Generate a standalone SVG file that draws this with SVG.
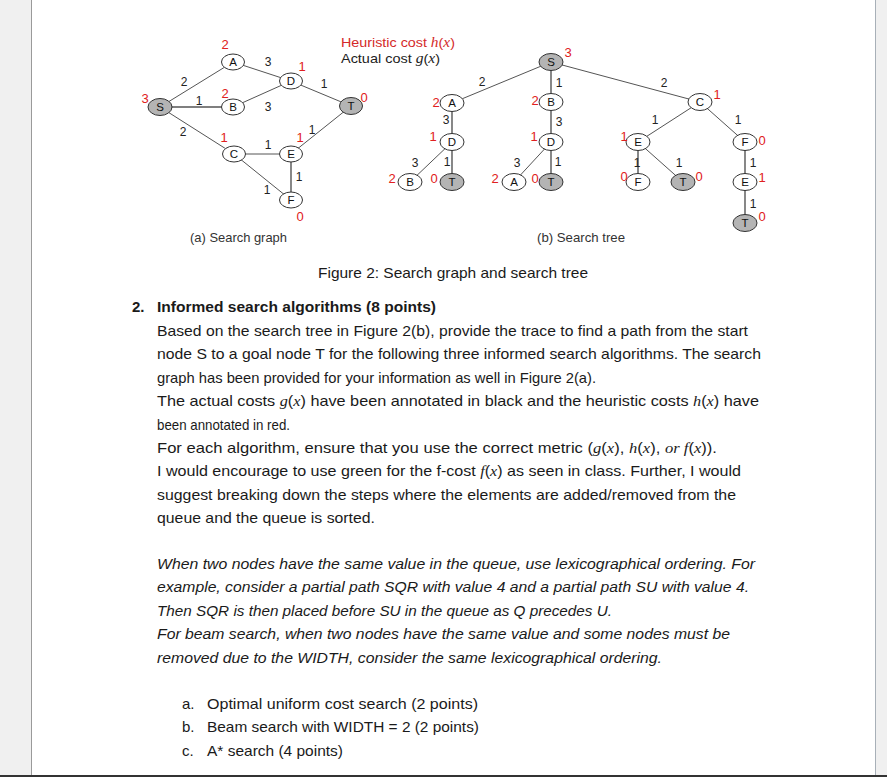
<svg xmlns="http://www.w3.org/2000/svg" width="887" height="777" viewBox="0 0 887 777">
<style>
.e{stroke:#555;stroke-width:1;fill:none}
.ev{stroke:#555;stroke-width:1.4;fill:none}
.n{fill:#fff;stroke:#333;stroke-width:1}
.g{fill:#b4b4b4;stroke:#333;stroke-width:1}
.nt{font-family:"Liberation Sans",Arial,sans-serif;font-size:11.5px;fill:#111;text-anchor:middle}
.el{font-family:"Liberation Sans",Arial,sans-serif;font-size:12px;fill:#222;text-anchor:middle}
.h{font-family:"Liberation Sans",Arial,sans-serif;font-size:13px;fill:#e02020;text-anchor:middle}
.cap{font-family:"Liberation Sans",Arial,sans-serif;font-size:13px;fill:#333}
.t{font-family:"Liberation Sans",Arial,sans-serif;font-size:15px;fill:#1a1a1a}
.i{font-style:italic}
.m{font-family:"Liberation Serif","Times New Roman",serif;font-style:italic}
</style>
<rect x="0" y="0" width="887" height="777" fill="#fff"/>
<rect x="0" y="0" width="31" height="777" fill="#f0f0f0"/>
<line x1="31.5" y1="0" x2="31.5" y2="777" stroke="#9a9a9a" stroke-width="1"/>
<rect x="875" y="0" width="12" height="777" fill="#f0f0f0"/>
<line x1="875.5" y1="0" x2="875.5" y2="777" stroke="#a8b0b8" stroke-width="1"/>
<rect x="0" y="775" width="887" height="2" fill="#333"/>

<g id="connectors">
<line class="e" x1="160" y1="107" x2="233" y2="62"/>
<line class="e" x1="233" y1="62" x2="291" y2="81"/>
<line class="e" x1="291" y1="81" x2="351" y2="106"/>
<line class="ev" x1="160" y1="107" x2="233" y2="107"/>
<line class="e" x1="233" y1="107" x2="291" y2="81"/>
<line class="e" x1="160" y1="107" x2="234" y2="154"/>
<line class="e" x1="351" y1="106" x2="291" y2="154"/>
<line class="e" x1="234" y1="154" x2="291" y2="154"/>
<line class="ev" x1="291" y1="154" x2="291" y2="200"/>
<line class="e" x1="234" y1="154" x2="291" y2="200"/>

<line class="e" x1="551" y1="62" x2="452" y2="103"/>
<line class="ev" x1="452" y1="103" x2="452" y2="142"/>
<line class="e" x1="452" y1="142" x2="410" y2="182"/>
<line class="ev" x1="452" y1="142" x2="452" y2="182"/>
<line class="ev" x1="551" y1="62" x2="551" y2="102"/>
<line class="ev" x1="551" y1="102" x2="551" y2="142"/>
<line class="e" x1="551" y1="142" x2="514" y2="182"/>
<line class="ev" x1="551" y1="142" x2="551" y2="182"/>
<line class="e" x1="551" y1="62" x2="700" y2="102"/>
<line class="e" x1="700" y1="102" x2="638" y2="142"/>
<line class="e" x1="700" y1="102" x2="745" y2="142"/>
<line class="ev" x1="638" y1="142" x2="638" y2="182"/>
<line class="e" x1="638" y1="142" x2="683" y2="182"/>
<line class="ev" x1="745" y1="142" x2="745" y2="182"/>
<line class="ev" x1="745" y1="182" x2="745" y2="223"/>
</g>

<g id="edge-labels">
<text class="el" x="184" y="86">2</text>
<text class="el" x="268" y="66">3</text>
<text class="el" x="324" y="88">1</text>
<text class="el" x="199" y="105">1</text>
<text class="el" x="268" y="111">3</text>
<text class="el" x="183" y="136">2</text>
<text class="el" x="312" y="134">1</text>
<text class="el" x="268" y="149">1</text>
<text class="el" x="299" y="181">1</text>
<text class="el" x="267" y="194">1</text>

<text class="el" x="482" y="86">2</text>
<text class="el" x="446" y="124">3</text>
<text class="el" x="415" y="167">3</text>
<text class="el" x="447" y="166">1</text>
<text class="el" x="559" y="87">1</text>
<text class="el" x="559" y="126">3</text>
<text class="el" x="517" y="167">3</text>
<text class="el" x="558" y="166">1</text>
<text class="el" x="664" y="87">2</text>
<text class="el" x="655" y="124">1</text>
<text class="el" x="738" y="124">1</text>
<text class="el" x="637" y="167">1</text>
<text class="el" x="679" y="167">1</text>
<text class="el" x="753" y="167">1</text>
<text class="el" x="753" y="208">1</text>
</g>

<g id="graph-S"><ellipse class="g" cx="160" cy="107" rx="12" ry="8.5"/><text class="nt" x="160" y="111">S</text><text class="h" x="145" y="103">3</text></g>
<g id="graph-A"><ellipse class="n" cx="233" cy="62" rx="11.5" ry="8"/><text class="nt" x="233" y="66">A</text><text class="h" x="225" y="49">2</text></g>
<g id="graph-B"><ellipse class="n" cx="233" cy="107" rx="11.5" ry="8"/><text class="nt" x="233" y="111">B</text><text class="h" x="225" y="98">2</text></g>
<g id="graph-D"><ellipse class="n" cx="291" cy="81" rx="11.5" ry="8"/><text class="nt" x="291" y="85">D</text><text class="h" x="302" y="71">1</text></g>
<g id="graph-T"><ellipse class="g" cx="351" cy="106" rx="11.5" ry="8.5"/><text class="nt" x="351" y="110">T</text><text class="h" x="364" y="102">0</text></g>
<g id="graph-C"><ellipse class="n" cx="234" cy="154" rx="11.5" ry="8"/><text class="nt" x="234" y="158">C</text><text class="h" x="224" y="142">1</text></g>
<g id="graph-E"><ellipse class="n" cx="291" cy="154" rx="11.5" ry="8"/><text class="nt" x="291" y="158">E</text><text class="h" x="300" y="142">1</text></g>
<g id="graph-F"><ellipse class="n" cx="291" cy="200" rx="11.5" ry="8"/><text class="nt" x="291" y="204">F</text><text class="h" x="300" y="221">0</text></g>

<g id="tree-S"><ellipse class="g" cx="551" cy="62" rx="12" ry="8.5"/><text class="nt" x="551" y="66">S</text><text class="h" x="568" y="57">3</text></g>
<g id="tree-A1"><ellipse class="n" cx="452" cy="103" rx="12" ry="8.5"/><text class="nt" x="452" y="107">A</text><text class="h" x="436" y="107">2</text></g>
<g id="tree-D1"><ellipse class="n" cx="452" cy="142" rx="12" ry="8.5"/><text class="nt" x="452" y="146">D</text><text class="h" x="433" y="141">1</text></g>
<g id="tree-B1"><ellipse class="n" cx="410" cy="182" rx="12" ry="8.5"/><text class="nt" x="410" y="186">B</text><text class="h" x="392" y="183">2</text></g>
<g id="tree-T1"><ellipse class="g" cx="452" cy="182" rx="12" ry="8.5"/><text class="nt" x="452" y="186">T</text><text class="h" x="434" y="183">0</text></g>
<g id="tree-B2"><ellipse class="n" cx="551" cy="102" rx="12" ry="8.5"/><text class="nt" x="551" y="106">B</text><text class="h" x="535" y="105">2</text></g>
<g id="tree-D2"><ellipse class="n" cx="551" cy="142" rx="12" ry="8.5"/><text class="nt" x="551" y="146">D</text><text class="h" x="534" y="141">1</text></g>
<g id="tree-A2"><ellipse class="n" cx="514" cy="182" rx="12" ry="8.5"/><text class="nt" x="514" y="186">A</text><text class="h" x="495" y="183">2</text></g>
<g id="tree-T2"><ellipse class="g" cx="551" cy="182" rx="12" ry="8.5"/><text class="nt" x="551" y="186">T</text><text class="h" x="535" y="183">0</text></g>
<g id="tree-C"><ellipse class="n" cx="700" cy="102" rx="12" ry="8.5"/><text class="nt" x="700" y="106">C</text><text class="h" x="717" y="99">1</text></g>
<g id="tree-E1"><ellipse class="n" cx="638" cy="142" rx="12" ry="8.5"/><text class="nt" x="638" y="146">E</text><text class="h" x="624" y="141">1</text></g>
<g id="tree-F1"><ellipse class="n" cx="745" cy="142" rx="12" ry="8.5"/><text class="nt" x="745" y="146">F</text><text class="h" x="762" y="145">0</text></g>
<g id="tree-F2"><ellipse class="n" cx="638" cy="182" rx="12" ry="8.5"/><text class="nt" x="638" y="186">F</text><text class="h" x="624" y="181">0</text></g>
<g id="tree-T3"><ellipse class="g" cx="683" cy="182" rx="12" ry="8.5"/><text class="nt" x="683" y="186">T</text><text class="h" x="699" y="181">0</text></g>
<g id="tree-E2"><ellipse class="n" cx="745" cy="182" rx="12" ry="8.5"/><text class="nt" x="745" y="186">E</text><text class="h" x="762" y="182">1</text></g>
<g id="tree-T4"><ellipse class="g" cx="745" cy="223" rx="12" ry="8.5"/><text class="nt" x="745" y="227">T</text><text class="h" x="762" y="221">0</text></g>

<g id="legend">
<text x="341" y="47" font-family="Liberation Sans,Arial,sans-serif" font-size="13" fill="#d42a2a" textLength="114" lengthAdjust="spacingAndGlyphs">Heuristic cost <tspan class="m" font-size="14">h</tspan>(<tspan class="m" font-size="14">x</tspan>)</text>
<text x="341" y="63" font-family="Liberation Sans,Arial,sans-serif" font-size="13" fill="#222" textLength="99" lengthAdjust="spacingAndGlyphs">Actual cost <tspan class="m" font-size="14">g</tspan>(<tspan class="m" font-size="14">x</tspan>)</text>
</g>

<text class="cap" x="190" y="242" textLength="97" lengthAdjust="spacingAndGlyphs">(a) Search graph</text>
<text class="cap" x="537" y="242" textLength="88" lengthAdjust="spacingAndGlyphs">(b) Search tree</text>

<text class="t" x="318" y="278" textLength="270" lengthAdjust="spacingAndGlyphs">Figure 2: Search graph and search tree</text>
<text class="t" x="132" y="312" font-weight="bold">2.</text>
<text class="t" x="157" y="312" font-weight="bold" textLength="279" lengthAdjust="spacingAndGlyphs">Informed search algorithms (8 points)</text>

<text class="t" x="157" y="336" textLength="591" lengthAdjust="spacingAndGlyphs">Based on the search tree in Figure 2(b), provide the trace to find a path from the start</text>
<text class="t" x="157" y="359.4" textLength="604" lengthAdjust="spacingAndGlyphs">node S to a goal node T for the following three informed search algorithms. The search</text>
<text class="t" x="157" y="382.8" textLength="439" lengthAdjust="spacingAndGlyphs">graph has been provided for your information as well in Figure 2(a).</text>
<text class="t" x="157" y="406.2" textLength="602" lengthAdjust="spacingAndGlyphs">The actual costs <tspan class="m">g</tspan>(<tspan class="m">x</tspan>) have been annotated in black and the heuristic costs <tspan class="m">h</tspan>(<tspan class="m">x</tspan>) have</text>
<text class="t" x="157" y="429.6" textLength="133" lengthAdjust="spacingAndGlyphs">been annotated in red.</text>
<text class="t" x="157" y="453" textLength="560" lengthAdjust="spacingAndGlyphs">For each algorithm, ensure that you use the correct metric (<tspan class="m">g</tspan>(<tspan class="m">x</tspan>), <tspan class="m">h</tspan>(<tspan class="m">x</tspan>), <tspan class="m">or f</tspan>(<tspan class="m">x</tspan>)).</text>
<text class="t" x="157" y="476.4" textLength="584" lengthAdjust="spacingAndGlyphs">I would encourage to use green for the f-cost <tspan class="m">f</tspan>(<tspan class="m">x</tspan>) as seen in class. Further, I would</text>
<text class="t" x="157" y="499.8" textLength="579" lengthAdjust="spacingAndGlyphs">suggest breaking down the steps where the elements are added/removed from the</text>
<text class="t" x="157" y="523.2" textLength="218" lengthAdjust="spacingAndGlyphs">queue and the queue is sorted.</text>

<text class="t i" x="157" y="569" textLength="598" lengthAdjust="spacingAndGlyphs">When two nodes have the same value in the queue, use lexicographical ordering. For</text>
<text class="t i" x="157" y="592.4" textLength="592" lengthAdjust="spacingAndGlyphs">example, consider a partial path SQR with value 4 and a partial path SU with value 4.</text>
<text class="t i" x="157" y="615.8" textLength="455" lengthAdjust="spacingAndGlyphs">Then SQR is then placed before SU in the queue as Q precedes U.</text>
<text class="t i" x="157" y="639.2" textLength="573" lengthAdjust="spacingAndGlyphs">For beam search, when two nodes have the same value and some nodes must be</text>
<text class="t i" x="157" y="662.6" textLength="505" lengthAdjust="spacingAndGlyphs">removed due to the WIDTH, consider the same lexicographical ordering.</text>

<text class="t" x="182" y="709">a.</text>
<text class="t" x="207" y="709" textLength="271" lengthAdjust="spacingAndGlyphs">Optimal uniform cost search (2 points)</text>
<text class="t" x="182" y="732.4">b.</text>
<text class="t" x="207" y="732.4" textLength="272" lengthAdjust="spacingAndGlyphs">Beam search with WIDTH = 2 (2 points)</text>
<text class="t" x="182" y="755.8">c.</text>
<text class="t" x="207" y="755.8" textLength="136" lengthAdjust="spacingAndGlyphs">A* search (4 points)</text>
</svg>
